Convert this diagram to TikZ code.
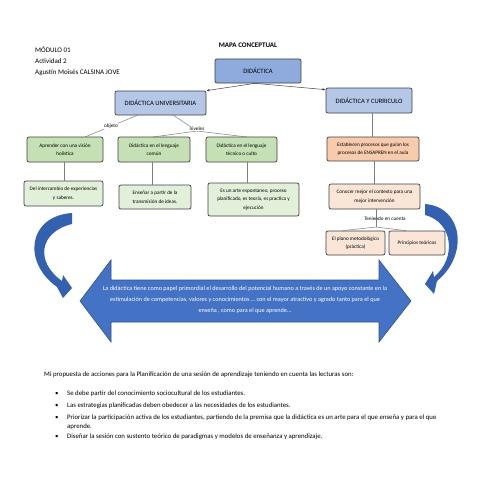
\documentclass[tikz,border=0pt]{standalone}
\usepackage{fontspec}
\setmainfont{Carlito}
\usetikzlibrary{arrows.meta}
\definecolor{topblue}{HTML}{8FAADC}
\definecolor{lblue}{HTML}{B4C7E7}
\definecolor{dgreen}{HTML}{C5E0B4}
\definecolor{lgreen}{HTML}{E2F0D9}
\definecolor{dorange}{HTML}{F8CBAD}
\definecolor{lorange}{HTML}{FBE5D6}
\definecolor{boxline}{HTML}{404040}
\definecolor{bigblue}{HTML}{4472C4}
\definecolor{bigline}{HTML}{2F528F}
\definecolor{curveblue}{HTML}{3460B0}
\definecolor{conn}{HTML}{7F7F7F}
\begin{document}
\begin{tikzpicture}[x=1pt,y=-1pt,
  box/.style={draw=boxline, rounded corners=2pt, line width=0.7pt, align=center, inner sep=1pt,
    font=\fontsize{5.2}{8.5}\selectfont},
  hbox/.style={box, font=\fontsize{6.6}{7.5}\selectfont},
  conline/.style={draw=conn, line width=0.5pt},
  arr/.style={draw=black!75, line width=0.5pt, -{Latex[length=3pt,width=2.5pt]}},
  lab/.style={font=\fontsize{5.2}{6}\selectfont, inner sep=0.5pt},
  hdr/.style={font=\fontsize{7}{8}\selectfont, anchor=base west, inner sep=0pt},
  body/.style={font=\fontsize{6.8}{8}\selectfont, anchor=base west, inner sep=0pt}
]
\fill[white] (0,0) rectangle (495,495);
\useasboundingbox (0,0) rectangle (495,495);

% header
\node[hdr] (h1) at (35,52.5) {MÓDULO 01};
\node[hdr] (h2) at (35,63.5) {Actividad 2};
\node[hdr] (h3) at (35,74.5) {Agustín Moisés CALSINA JOVE};
\node[font=\fontsize{7}{8}\selectfont\bfseries, inner sep=0pt] (title) at (248,45) {MAPA CONCEPTUAL};

% top level
\node[hbox, fill=topblue, minimum width=86pt, minimum height=24pt] (did) at (258,71) {DIDÁCTICA};
\node[hbox, fill=lblue, minimum width=91pt, minimum height=24pt] (du) at (160.5,103) {DIDÁCTICA UNIVERSITARIA};
\node[hbox, fill=lblue, minimum width=86pt, minimum height=25pt] (dyc) at (369,100.5) {DIDÁCTICA Y CURRICULO};

% first row
\node[box, fill=dgreen, minimum width=76pt, minimum height=25pt] (g1) at (65,149.5) {Aprender con una visión\\holística};
\node[box, fill=dgreen, minimum width=72pt, minimum height=25pt] (g2) at (154,149.5) {Didáctica en el lenguaje\\común};
\node[box, fill=dgreen, minimum width=71pt, minimum height=25pt] (g3) at (241.5,149.5) {Didáctica en el lenguaje\\técnico o culto};
\node[box, fill=dorange, minimum width=92pt, minimum height=24pt] (o1) at (373,149) {Establecen procesos que guían los\\procesos de ENSAPREN en el aula};

% second row
\node[box, fill=lgreen, minimum width=79pt, minimum height=25pt] (g1b) at (63.5,193.5) {Del intercambio de experiencias\\y saberes.};
\node[box, fill=lgreen, minimum width=72pt, minimum height=24pt] (g2b) at (155,197) {Enseñar a partir de la\\transmisión de ideas.};
\node[box, fill=lgreen, minimum width=91pt, minimum height=33pt] (g3b) at (253.5,199.5) {Es un arte espontaneo, proceso\\planificado, es teoría, es practica y\\ejecución};
\node[box, fill=lorange, minimum width=91pt, minimum height=25pt] (o2) at (374.5,196.5) {Conocer mejor el contexto para una\\mejor intervención};

% third row
\node[box, fill=lorange, minimum width=59pt, minimum height=24pt] (p1) at (355.5,243) {El plano metodológico\\(práctica)};
\node[box, fill=lorange, minimum width=56pt, minimum height=24pt] (p2) at (417,243) {Principios teóricos};

% connectors
\draw[arr] ([xshift=-3pt]did.south) -- (du.north east);
\draw[arr] ([xshift=-3pt]did.south) -- ([yshift=-2pt]dyc.north west);

\coordinate (objs) at (138,115);
\coordinate (objt) at (85,137);
\draw[conline] (objs) -- (objt);
\node[lab, fill=white] (obj) at (111,126) {objeto};

\coordinate (nivs) at (173,115);
\coordinate (nivm) at (197,131);
\draw[conline] (nivs) -- (nivm);
\draw[conline] (nivm) -- (153,137);
\draw[conline] (nivm) -- (247,137);
\node[lab, fill=white] (niv) at (197,129) {niveles};

\draw[conline] ([xshift=-1pt]g1.south) -- ([xshift=0.5pt]g1b.north);
\draw[conline] ([xshift=-2pt]g2.south) -- ([xshift=-3pt]g2b.north);
\draw[conline] ([xshift=5.5pt]g3.south) -- ([xshift=-6.5pt]g3b.north);
\draw[conline] ([xshift=3pt]dyc.south) -- ([xshift=-1pt]o1.north);
\draw[conline] ([xshift=1pt]o1.south) -- ([xshift=-0.5pt]o2.north);

\coordinate (ten) at (376,227);
\draw[conline] ([xshift=1.5pt]o2.south) -- (ten);
\draw[conline] (ten) -- ([xshift=-13pt]p1.north);
\draw[conline] (ten) -- ([xshift=-11pt]p2.north);
\node[lab] (tenl) at (385,219) {Teniendo en cuenta};

% big double arrow
\draw[fill=bigblue, draw=bigline, line width=0.6pt] (80,301) -- (111,260) -- (111,280) -- (379,280) -- (379,260) -- (411,301) -- (379,342) -- (379,322) -- (111,322) -- (111,342) -- cycle;
\node[text=white, align=center, font=\fontsize{6.2}{11}\selectfont, inner sep=0pt] (bigtxt) at (245,300) {La didáctica tiene como papel primordial el desarrollo del potencial humano a través de un apoyo constante en la\\estimulación de competencias, valores y conocimientos … con el mayor atractivo y agrado tanto para el que\\enseña , como para el que aprende…};

% curved arrows
\fill[curveblue] (72,213) .. controls (28,216) and (22,262) .. (57,287) -- (63,298) -- (72,288) -- (63,275) -- (62,281) .. controls (35,262) and (39,232) .. (72,224) -- cycle;
\fill[curveblue] (425,204) .. controls (463,207) and (469,255) .. (437,281) -- (434,294) -- (425,284) -- (433,271) -- (434,277) .. controls (457,258) and (453,222) .. (425,215) -- cycle;

% bottom text
\node[body] (intro) at (44,376) {Mi propuesta de acciones para la Planificación de una sesión de aprendizaje teniendo en cuenta las lecturas son:};
\node[body] (b1) at (55,395) {•};
\node[body] (t1) at (67,395) {Se debe partir del conocimiento sociocultural de los estudiantes.};
\node[body] (b2) at (55,407) {•};
\node[body] (t2) at (67,407) {Las estrategias planificadas deben obedecer a las necesidades de los estudiantes.};
\node[body] (b3) at (55,419) {•};
\node[body] (t3) at (67,419) {Priorizar la participación activa de los estudiantes, partiendo de la premisa que la didáctica es un arte para el que enseña y para el que};
\node[body] (t3b) at (67,428.5) {aprende.};
\node[body] (b4) at (55,438) {•};
\node[body] (t4) at (67,438) {Diseñar la sesión con sustento teórico de paradigmas y modelos de enseñanza y aprendizaje.};
\end{tikzpicture}
\end{document}
